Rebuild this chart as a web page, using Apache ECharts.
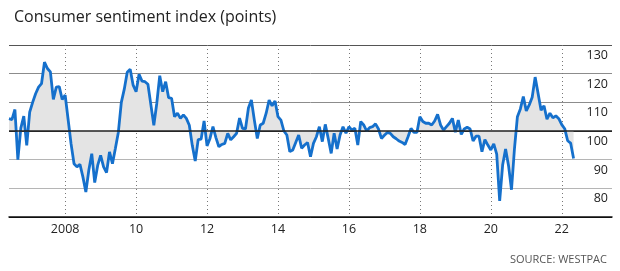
<!DOCTYPE html>
<html><head><meta charset="utf-8">
<script src="https://cdn.jsdelivr.net/npm/echarts@6/dist/echarts.min.js"></script>
<style>html,body{margin:0;padding:0;background:#fff}#c{width:620px;height:271px}</style>
</head><body><div id="c"></div>
<script>
// Monthly index, June 2006 .. May 2022
const startYear = 2006, startMonth = 6;
const sentiment = [
  104.3,104,107.5,90,101,105.2,95,                 // 2006 Jun-Dec
  106.6,110,113,115.3,116.5,124,121.8,120.6,111,115.3,115.5,111, // 2007
  112.5,104,95.5,88.6,87.5,88.4,84,78.7,86.3,92.1,82,88,        // 2008
  91.5,87.5,85.5,92.7,88.6,94,99.6,110,114.6,120.5,121.5,116,   // 2009
  113.7,119.8,117.4,117.2,116.3,109.1,102,109.7,119.3,113.7,117.2,111.6, // 2010
  111.4,105,106.2,104.4,105.6,104.4,102,95,89.5,97,97.2,103.5,  // 2011
  94.8,97.4,101.5,97.7,94.5,95.3,95.7,99.2,96.9,98,99.2,104.5,  // 2012
  100.9,100.7,108,110.8,103.8,97.4,102.1,102.7,106.2,110.8,108.8,110.5, // 2013
  105,103.8,100,98.6,92.8,93.4,96,98.6,94,95.1,96,91,           // 2014
  95.7,98,101.5,96.3,102.3,97.4,92.2,99.2,93.7,98.6,101.5,99.2, // 2015
  101.5,100.3,101,95.1,103.3,102.1,100,101.2,101.5,102.5,100.7,97.4, // 2016
  98.5,99.5,99.2,98,97.3,96.5,96,95.3,98,100.9,99.5,99.5,       // 2017
  105,103.3,102.7,102.7,102.1,103.5,105.8,102.1,100.3,101.5,102.7,104.4, // 2018
  99.6,103.8,98.8,100.7,101.3,100.7,96.5,98.2,98.2,92.8,97,95.1, // 2019
  93.4,95.5,91.9,75.6,88.1,93.7,87.9,79.5,93.8,105,107.7,112,   // 2020
  107,109.1,111.8,118.8,113.1,107.2,108.8,104.1,106.2,104.6,105.3,104.3, // 2021
  102.2,100.8,96.6,95.8,90.4                                     // 2022
];
const extraMonths = 13;
const labelYears = [2008,2010,2012,2014,2016,2018,2020,2022];
const yLabels = [80,90,100,110,120,130];
const titleText = 'Consumer sentiment index (points)';
const sourceText = 'SOURCE: WESTPAC';

const months = [];
for (let i = 0; i < sentiment.length + extraMonths; i++) {
  const m0 = startMonth - 1 + i;
  const y = startYear + Math.floor(m0 / 12);
  const m = (m0 % 12) + 1;
  months.push(y + '-' + (m < 10 ? '0' + m : m));
}
const isTick = (idx, val) => {
  const [y, m] = val.split('-');
  return m === '01' && labelYears.indexOf(+y) >= 0;
};
const FONT = '"Open Sans", sans-serif';
const chart = echarts.init(document.getElementById('c'), null, {renderer: 'canvas'});
chart.setOption({
  animation: false,
  title: [
    {text: titleText, left: 9, top: 4,
     textStyle: {fontFamily: FONT, fontSize: 16, fontWeight: 'normal', color: '#222'}},
    {text: sourceText, right: 8, top: 249,
     textStyle: {fontFamily: FONT, fontSize: 11, fontWeight: 'normal', color: '#555'}}
  ],
  grid: {left: 9, right: 8, top: 45, bottom: 54},
  xAxis: {
    type: 'category', data: months, boundaryGap: false,
    axisLine: {lineStyle: {color: '#111', width: 1.5}},
    axisTick: {show: false},
    axisLabel: {interval: isTick, margin: 6, fontFamily: FONT, fontSize: 12.5, color: '#222',
      formatter: v => { const y = +v.split('-')[0]; return y === 2008 ? '2008' : String(y).slice(2); }},
    splitLine: {show: true, interval: isTick, lineStyle: {color: '#777', type: [1, 3], width: 1}}
  },
  yAxis: {
    type: 'value', min: 70, max: 130, interval: 10, position: 'right',
    axisLine: {show: false}, axisTick: {show: false},
    axisLabel: {inside: true, margin: 4, verticalAlign: 'top', padding: [4, 0, 0, 0],
      fontFamily: FONT, fontSize: 12.5, color: '#222',
      formatter: v => yLabels.indexOf(v) >= 0 ? String(v) : ''},
    splitLine: {lineStyle: {color: ['#111', '#b5b5b5', '#b5b5b5', '#333', '#8c8c8c', '#8c8c8c', '#555'], width: 1}}
  },
  series: [{
    type: 'line', data: sentiment, symbol: 'none', smooth: false,
    lineStyle: {color: '#1570cc', width: 2.8},
    areaStyle: {origin: 100, color: '#e4e4e4', opacity: 1},
    markLine: {silent: true, symbol: ['none', 'none'], label: {show: false},
      lineStyle: {color: '#222', width: 1.5, type: 'solid'}, data: [{yAxis: 100}]},
    z: 3
  }]
});
</script>
</body></html>
